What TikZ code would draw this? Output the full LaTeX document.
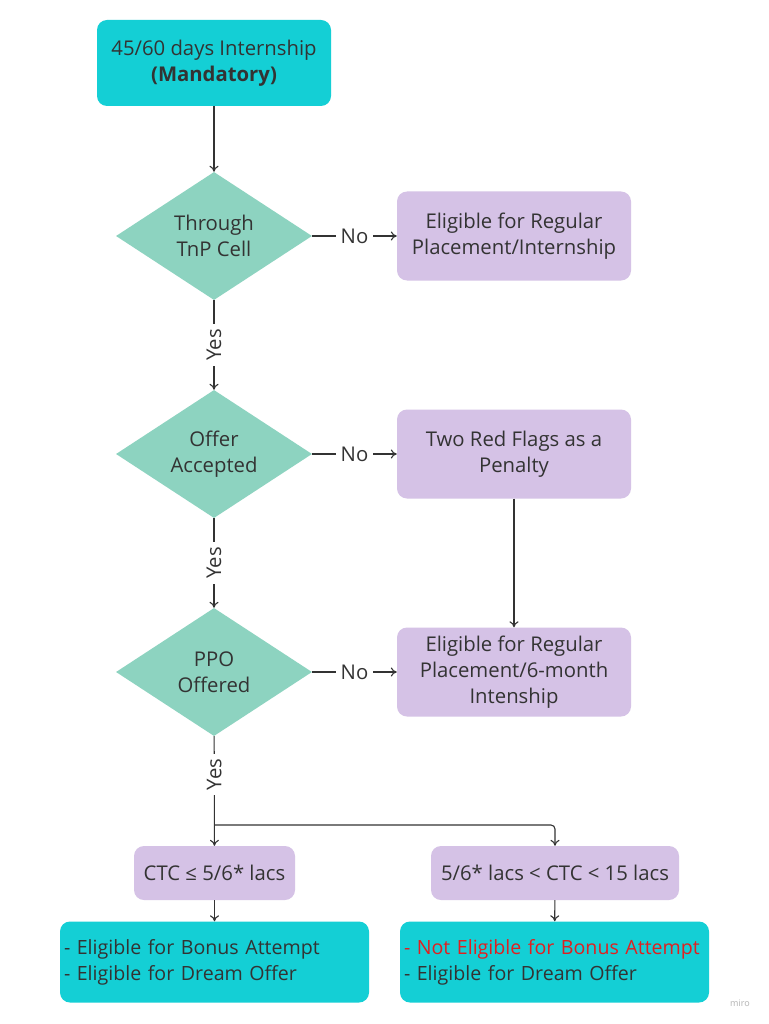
\documentclass[tikz,border=0pt]{standalone}
\usepackage{fontspec}
\setmainfont{Open Sans}
\usetikzlibrary{shapes.geometric,arrows.meta}
\definecolor{cy}{HTML}{14CFD5}
\definecolor{mint}{HTML}{8DD3C0}
\definecolor{lav}{HTML}{D5C2E6}
\definecolor{ln}{HTML}{333333}
\begin{document}
\begin{tikzpicture}[x=1pt,y=-1pt,
  every node/.style={font=\fontsize{20.3}{26}\selectfont,text=ln},
  box/.style={rounded corners=10pt,align=center,inner sep=0},
  dia/.style={diamond,fill=mint,aspect=1.53,minimum width=196pt,minimum height=128pt,inner sep=0,align=center},
  fin/.style={box,fill=cy,minimum width=309pt,minimum height=81pt,align=left,text width=301pt,font=\fontsize{19.6}{26}\selectfont},
  arr/.style={draw=ln,line width=1.1pt,-{To[length=6pt,width=9pt]}},
  lbl/.style={fill=white,inner xsep=5pt,inner ysep=2pt}]
\useasboundingbox[fill=white] (0,0) rectangle (768,1024);
\node[box,fill=cy,minimum width=234pt,minimum height=86pt] (top) at (214,63) {45/60 days Internship\\\textbf{(Mandatory)}};
\node[dia] (d1) at (214,236) {Through\\TnP Cell};
\node[dia] (d2) at (214,454) {Offer\\Accepted};
\node[dia] (d3) at (214,672) {PPO\\Offered};
\node[box,fill=lav,minimum width=234pt,minimum height=89pt] (b1) at (514,236) {Eligible for Regular\\Placement/Internship};
\node[box,fill=lav,minimum width=234pt,minimum height=89pt] (b2) at (514,454) {Two Red Flags as a\\Penalty};
\node[box,fill=lav,minimum width=234pt,minimum height=89pt] (b3) at (514,672) {Eligible for Regular\\Placement/6-month\\Intenship};
\node[box,fill=lav,minimum width=161pt,minimum height=54pt] (c1) at (214.5,873) {CTC ≤ 5/6* lacs};
\node[box,fill=lav,minimum width=248pt,minimum height=54pt] (c2) at (555,873) {5/6* lacs < CTC < 15 lacs};
\node[fin] (e1) at (214.5,962) {- Eligible for Bonus Attempt\\- Eligible for Dream Offer};
\node[fin] (e2) at (554.5,962) {\textcolor[HTML]{E02020}{- Not Eligible for Bonus Attempt}\\- Eligible for Dream Offer};
\node[font=\fontsize{9}{10}\selectfont,text=gray!60] (m) at (740,1003) {miro};
\draw[arr] (top) -- (d1);
\draw[arr] (d1) -- node[lbl]{No} (b1);
\draw[arr] (d2) -- node[lbl]{No} (b2);
\draw[arr] (d3) -- node[lbl]{No} (b3);
\draw[arr] (d1) -- node[lbl,rotate=90]{Yes} (d2);
\draw[arr] (d2) -- node[lbl,rotate=90]{Yes} (d3);
\draw[arr] (d3) -- node[lbl,rotate=90,pos=0.35]{Yes} (c1);
\coordinate (br) at (214,825);
\draw[arr,rounded corners=4pt] (br) -- (555,825) -- (c2);
\draw[arr] (b2) -- (b3);
\draw[arr] (c1) -- (e1);
\draw[arr] (c2) -- (e2);
\end{tikzpicture}
\end{document}
